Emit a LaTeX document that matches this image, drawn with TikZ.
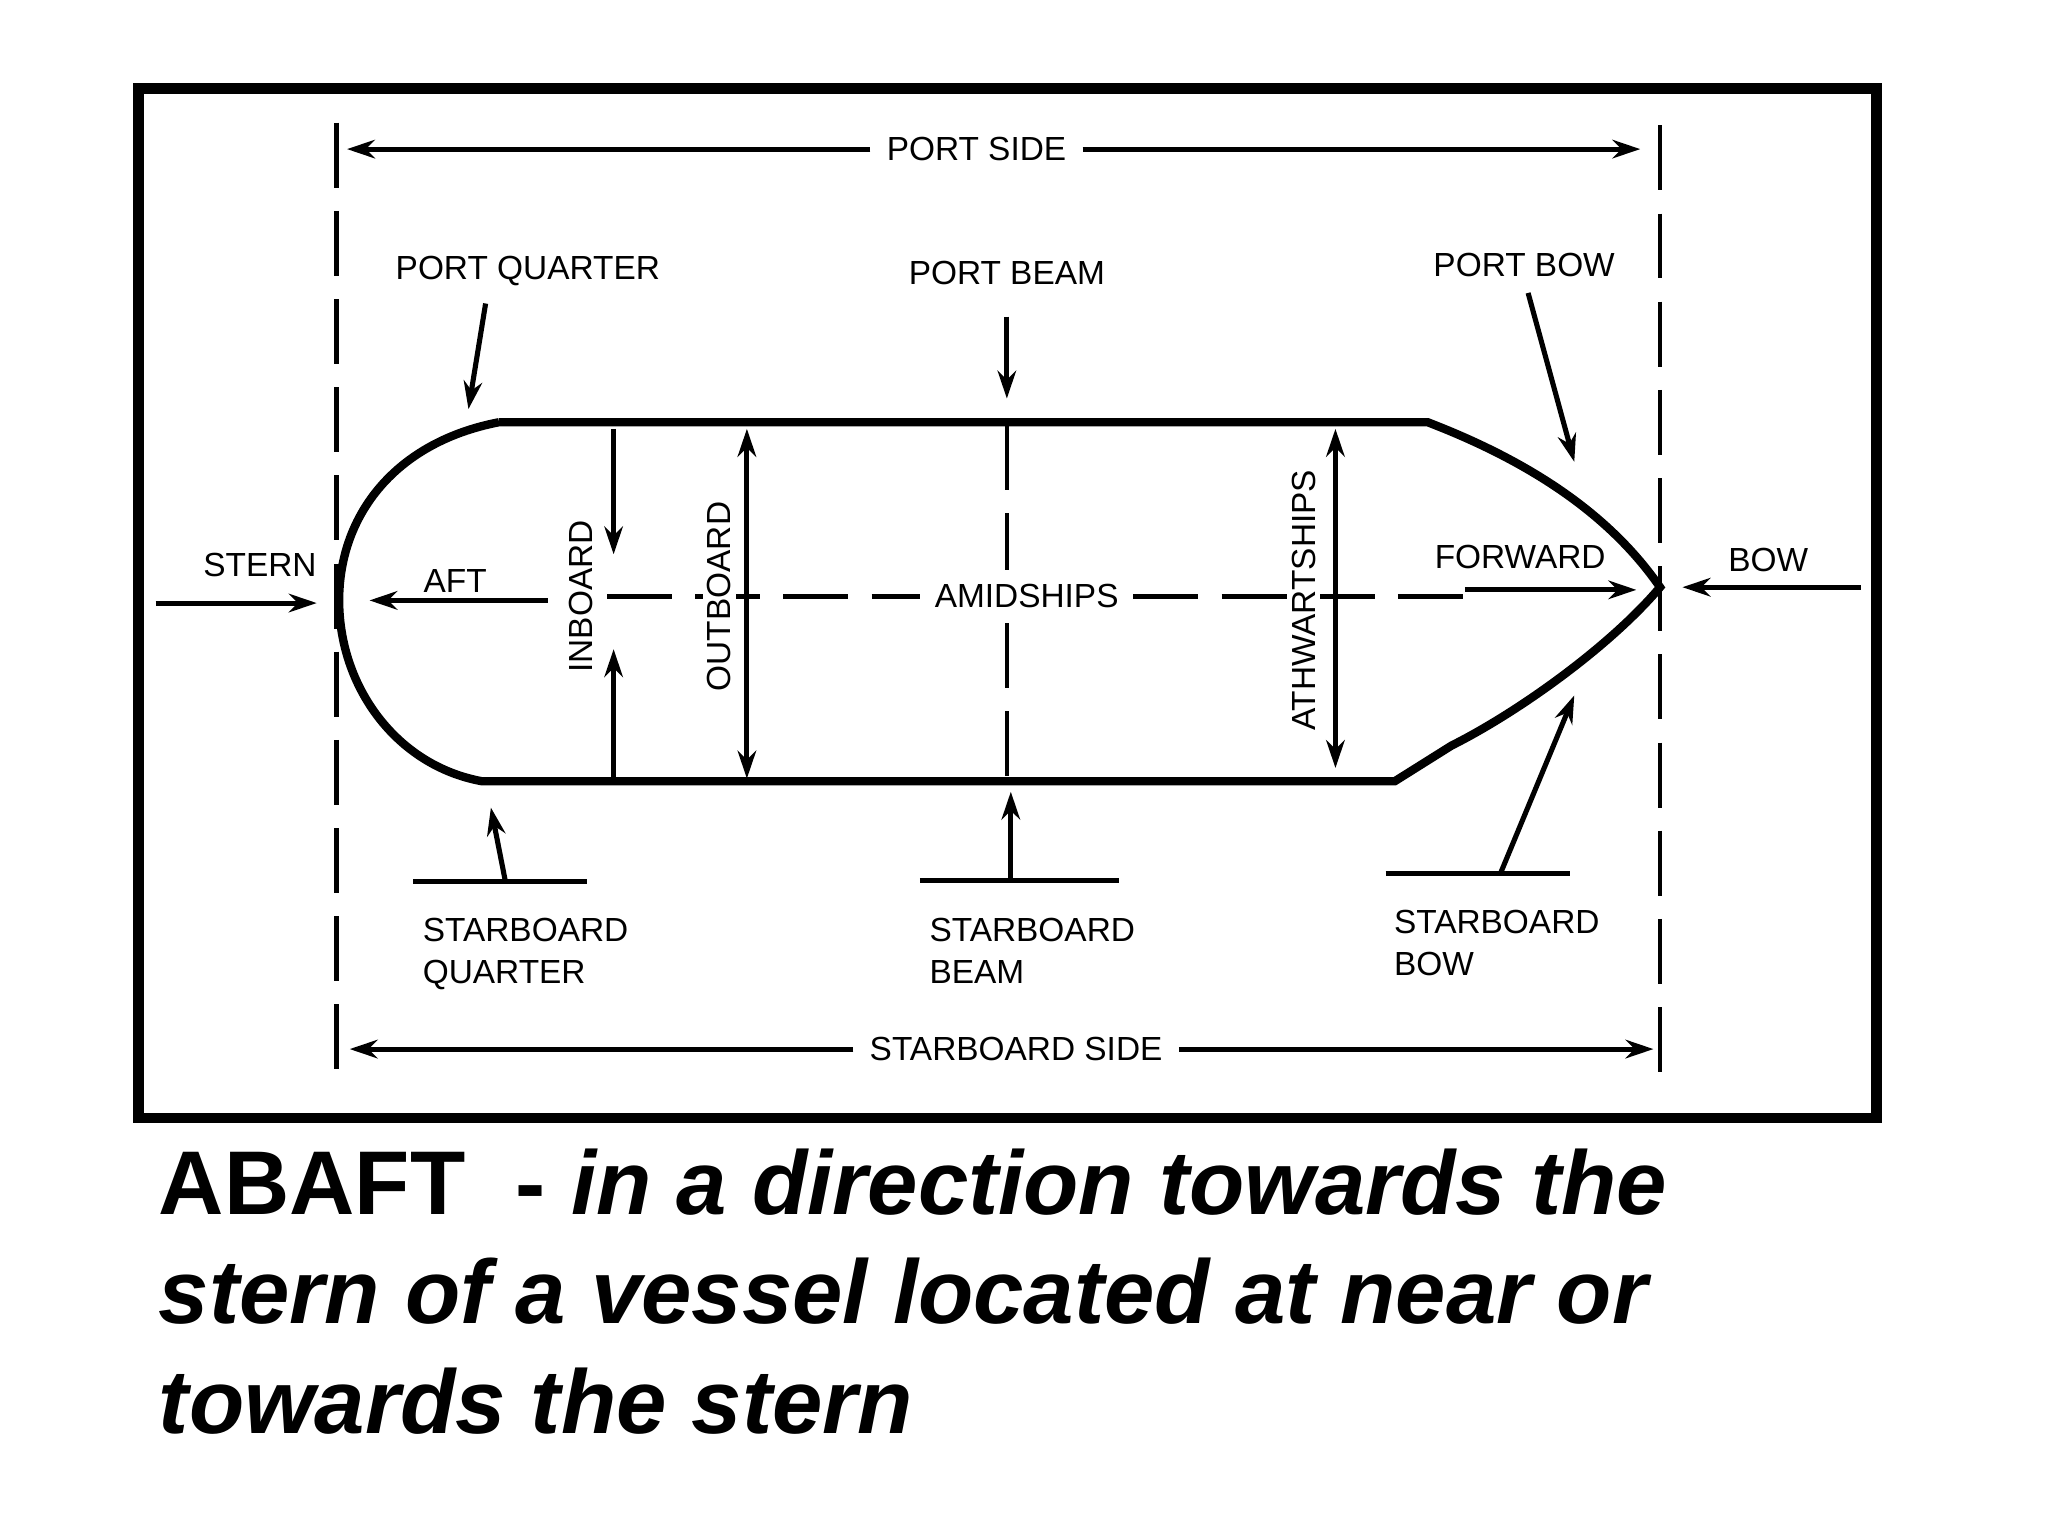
\documentclass[tikz,border=0pt]{standalone}
\usepackage{fontspec}
\setmainfont{Liberation Sans}
\usetikzlibrary{arrows.meta}
\begin{document}
\begin{tikzpicture}[x=0.01cm,y=-0.01cm,
  lbl/.style={font=\fontsize{7.2}{9.2}\selectfont},
  ln/.style={line width=1.1pt},
  arr/.style={ln,-{Stealth[length=6pt,width=4pt]}},
  dbl/.style={ln,{Stealth[length=6pt,width=4pt]}-{Stealth[length=6pt,width=4pt]}},
  dsh/.style={line width=1pt,dash pattern=on 14pt off 5pt}]
\useasboundingbox (0,0) rectangle (1552,1164);
\draw[line width=2.2pt] (105,67) rectangle (1422,847);
% side dashed limits
\draw[dsh] (255,93) -- (255,822);
\draw[dsh] (1258,95) -- (1258,812);
% port side
\node[lbl] (ps) at (740,113) {PORT SIDE};
\coordinate (psl) at (263,113); \coordinate (psr) at (1243,113);
\draw[arr] (ps.west) -- (psl);
\draw[arr] (ps.east) -- (psr);
% starboard side
\node[lbl] (ss) at (770,795) {STARBOARD SIDE};
\coordinate (ssl) at (265,795); \coordinate (ssr) at (1253,795);
\draw[arr] (ss.west) -- (ssl);
\draw[arr] (ss.east) -- (ssr);
% hull
\draw[line width=1.8pt] (378,320) -- (1082,320) .. controls (1160,350) and (1220,390) .. (1258,445)
  .. controls (1220,490) and (1150,540) .. (1100,565) -- (1057,592) -- (365,592)
  .. controls (300,580) and (257,520) .. (257,455) .. controls (257,390) and (300,335) .. (378,320);
% centre lines
\node[lbl,fill=white,inner sep=3pt] (am) at (778,452) {AMIDSHIPS};
\coordinate (ct) at (763,322); \coordinate (cb) at (763,590);
\coordinate (cl) at (460,452); \coordinate (cr) at (1110,452);
\draw[dsh] (ct) -- (ct|-am.north);
\draw[dsh] (cb|-am.south) -- (cb);
\draw[dsh] (cl) -- (am.west);
\draw[dsh] (am.east) -- (cr);
\node[lbl] (aft) at (345,440) {AFT};
\draw[arr] (415,455) -- (280,455);
\node[lbl] (fwd) at (1152,422) {FORWARD};
\draw[arr] (1110,447) -- (1240,447);
% stern, bow
\node[lbl] (st) at (197,428) {STERN};
\draw[arr] (118,457) -- (240,457);
\node[lbl] (bw) at (1340,424) {BOW};
\draw[arr] (1410,445) -- (1275,445);
% inboard/outboard/athwartships
\node[lbl,rotate=90,fill=white,inner sep=1pt] (ib) at (440,452) {INBOARD};
\draw[arr] (465,325) -- (465,420);
\draw[arr] (465,592) -- (465,492);
\node[lbl,rotate=90,fill=white,inner sep=1pt] (ob) at (545,452) {OUTBOARD};
\draw[dbl] (566,325) -- (566,590);
\node[lbl,rotate=90,fill=white,inner sep=1pt] (ath) at (988,455) {ATHWARTSHIPS};
\draw[dbl] (1012,325) -- (1012,582);
% port labels
\node[lbl] (pq) at (400,205) {PORT QUARTER};
\draw[arr] (368,230) -- (355,310);
\node[lbl] (pb) at (763,207) {PORT BEAM};
\draw[arr] (763,240) -- (763,302);
\node[lbl] (pbo) at (1155,201) {PORT BOW};
\draw[arr] (1158,222) -- (1193,350);
% starboard labels
\node[lbl,align=left,anchor=north west] (sq) at (308,683) {STARBOARD\\QUARTER};
\draw[ln] (313,668) -- (445,668);
\draw[arr] (383,668) -- (372,612);
\node[lbl,align=left,anchor=north west] (sb) at (692,683) {STARBOARD\\BEAM};
\draw[ln] (697,667) -- (848,667);
\draw[arr] (766,667) -- (766,600);
\node[lbl,align=left,anchor=north west] (sbo) at (1044,677) {STARBOARD\\BOW};
\draw[ln] (1050,662) -- (1190,662);
\draw[arr] (1137,662) -- (1193,527);
% caption
\node[anchor=north west,align=left,font=\fontsize{19.5}{23.6}\selectfont\bfseries] (cap) at (108,858)
 {ABAFT\ \ - \textit{in a direction towards the}\\ \textit{stern of a vessel located at near or}\\ \textit{towards the stern}};
\end{tikzpicture}
\end{document}
